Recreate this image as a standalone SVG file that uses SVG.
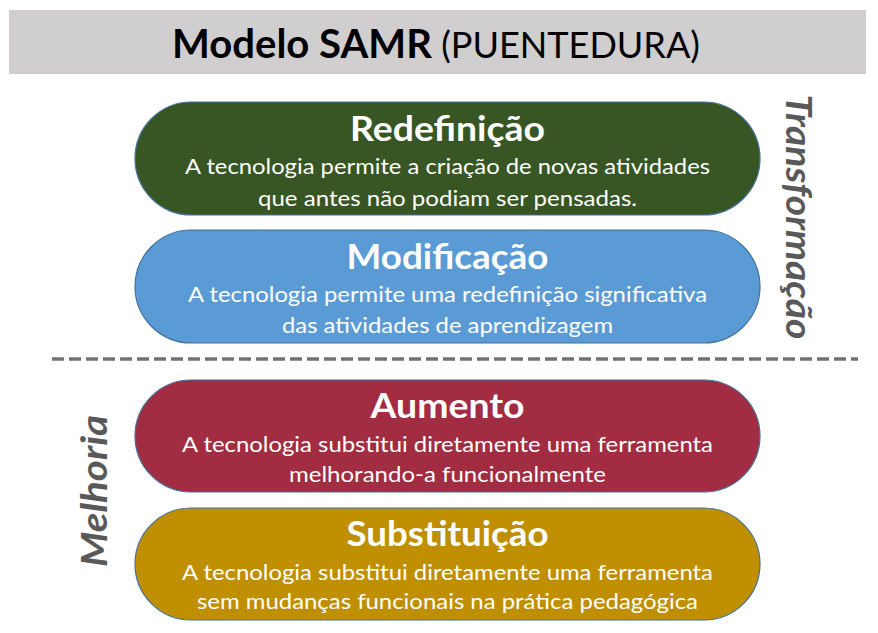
<svg xmlns="http://www.w3.org/2000/svg" width="878" height="633" viewBox="0 0 878 633">
<style>
.pill{stroke:#41719C;stroke-width:1.2}
.t{font-family:Lato,"Open Sans","Liberation Sans",sans-serif;fill:#fff;text-anchor:middle}
.h{font-weight:bold;font-size:34px}
.b{font-size:21px}
.side{font-family:Lato,"Open Sans","Liberation Sans",sans-serif;font-weight:bold;font-style:italic;font-size:36px;fill:#595959;text-anchor:middle}
</style>
<rect width="878" height="633" fill="#fff"/>
<g id="title">
<rect x="9" y="10" width="857" height="64" fill="#D0CECE"/>
<text x="436" y="58" text-anchor="middle" font-family="Lato,'Open Sans','Liberation Sans',sans-serif" fill="#000" textLength="528" lengthAdjust="spacingAndGlyphs"><tspan font-weight="bold" font-size="40">Modelo SAMR</tspan><tspan font-size="36"> (PUENTEDURA)</tspan></text>
</g>
<g id="connectors">
<line x1="52" y1="359" x2="858" y2="359" stroke="#767171" stroke-width="3.5" stroke-dasharray="12 5"/>
</g>
<g id="redefinicao">
<rect class="pill" x="135" y="102" width="625" height="113" rx="56.5" fill="#375623"/>
<text class="t h" x="447.5" y="141" textLength="195" lengthAdjust="spacingAndGlyphs">Redefinição</text>
<text class="t b" x="447.5" y="174" textLength="525" lengthAdjust="spacingAndGlyphs">A tecnologia permite a criação de novas atividades</text>
<text class="t b" x="447.5" y="206" textLength="379" lengthAdjust="spacingAndGlyphs">que antes não podiam ser pensadas.</text>
</g>
<g id="modificacao">
<rect class="pill" x="135" y="230" width="625" height="113" rx="56.5" fill="#5B9BD5"/>
<text class="t h" x="447.5" y="269" textLength="202" lengthAdjust="spacingAndGlyphs">Modificação</text>
<text class="t b" x="447.5" y="302" textLength="519" lengthAdjust="spacingAndGlyphs">A tecnologia permite uma redefinição significativa</text>
<text class="t b" x="447.5" y="333" textLength="331" lengthAdjust="spacingAndGlyphs">das atividades de aprendizagem</text>
</g>
<g id="aumento">
<rect class="pill" x="135" y="380" width="625" height="112" rx="56" fill="#A22C41"/>
<text class="t h" x="447.5" y="418" textLength="154" lengthAdjust="spacingAndGlyphs">Aumento</text>
<text class="t b" x="447.5" y="452" textLength="531" lengthAdjust="spacingAndGlyphs">A tecnologia substitui diretamente uma ferramenta</text>
<text class="t b" x="447.5" y="482" textLength="317" lengthAdjust="spacingAndGlyphs">melhorando-a funcionalmente</text>
</g>
<g id="substituicao">
<rect class="pill" x="135" y="508" width="625" height="112" rx="56" fill="#BF8F00"/>
<text class="t h" x="447.5" y="546" textLength="202" lengthAdjust="spacingAndGlyphs">Substituição</text>
<text class="t b" x="447.5" y="580" textLength="531" lengthAdjust="spacingAndGlyphs">A tecnologia substitui diretamente uma ferramenta</text>
<text class="t b" x="447.5" y="609" textLength="501" lengthAdjust="spacingAndGlyphs">sem mudanças funcionais na prática pedagógica</text>
</g>
<g id="transformacao">
<text class="side" transform="translate(786,217) rotate(90)" textLength="245" lengthAdjust="spacingAndGlyphs">Transformação</text>
</g>
<g id="melhoria">
<text class="side" transform="translate(107,491) rotate(-90)" textLength="152" lengthAdjust="spacingAndGlyphs">Melhoria</text>
</g>
</svg>
